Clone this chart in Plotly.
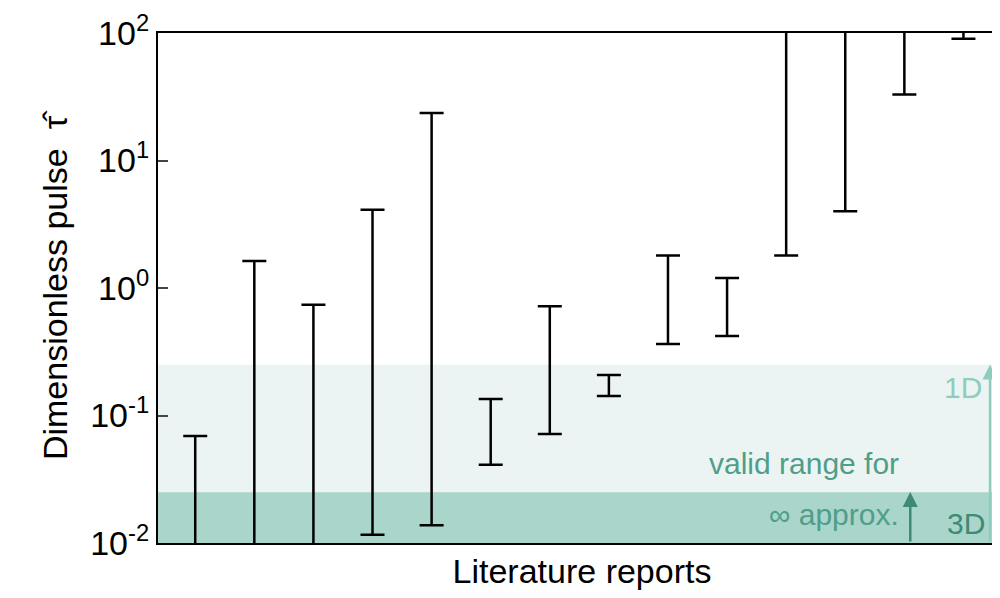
import plotly.graph_objects as go

reports = list(range(1, 15))
lower = [1e-3, 1e-3, 1e-3, 0.0116, 0.0138, 0.041, 0.0716, 0.142, 0.364, 0.42, 1.8, 4.0, 33, 90]
upper = [0.069, 1.63, 0.74, 4.1, 23.6, 0.135, 0.72, 0.208, 1.8, 1.2, 1e3, 1e3, 1e3, 1e3]
band_1d = 0.25
band_3d = 0.025
tick_vals = [0.01, 0.1, 1, 10, 100]
tick_text = ["10<sup>-2</sup>", "10<sup>-1</sup>", "10<sup>0</sup>", "10<sup>1</sup>", "10<sup>2</sup>"]

mid = [(l*u) ** 0.5 for l, u in zip(lower, upper)]
fig = go.Figure()
fig.add_trace(go.Scatter(
    x=reports, y=mid, mode="markers", marker=dict(size=0.1, color="rgba(0,0,0,0)"),
    error_y=dict(type="data", symmetric=False,
                 array=[u-m for u, m in zip(upper, mid)],
                 arrayminus=[m-l for l, m in zip(lower, mid)],
                 color="black", thickness=2.5, width=12),
    showlegend=False, hoverinfo="skip"))

fig.add_shape(type="rect", xref="paper", yref="y", x0=0, x1=1, y0=0.01, y1=band_1d,
              fillcolor="#ebf4f2", line_width=0, layer="below")
fig.add_shape(type="rect", xref="paper", yref="y", x0=0, x1=1, y0=0.01, y1=band_3d,
              fillcolor="#a9d5cb", line_width=0, layer="below")

fig.add_annotation(x=14.45, y=-0.6, ax=14.45, ay=-2, xref="x", yref="y", axref="x", ayref="y",
                   showarrow=True, arrowhead=2, arrowsize=1.2, arrowwidth=2.5, arrowcolor="#8ecdbd", text="")
fig.add_annotation(x=13.1, y=-1.6, ax=13.1, ay=-2, xref="x", yref="y", axref="x", ayref="y",
                   showarrow=True, arrowhead=2, arrowsize=1.2, arrowwidth=2.5, arrowcolor="#3d8a76", text="")
fig.add_annotation(x=14.35, y=-0.78, xref="x", yref="y", text="1D", showarrow=False,
                   xanchor="right", font=dict(size=30, color="#8ecdbd"))
fig.add_annotation(x=14.4, y=-1.85, xref="x", yref="y", text="3D", showarrow=False,
                   xanchor="right", font=dict(size=30, color="#3d8a76"))
fig.add_annotation(x=12.95, y=-1.38, xref="x", yref="y", text="valid range for", showarrow=False,
                   xanchor="right", font=dict(size=30, color="#4f9e8a"))
fig.add_annotation(x=12.95, y=-1.78, xref="x", yref="y", text="∞ approx.", showarrow=False,
                   xanchor="right", font=dict(size=30, color="#4f9e8a"))

fig.update_xaxes(range=[0.37, 14.72], showticklabels=False, ticks="", showgrid=False, zeroline=False,
                 showline=True, linecolor="black", linewidth=2, mirror=True, automargin=False,
                 title=dict(text="Literature reports", font=dict(size=34, color="black"), standoff=15))
fig.update_yaxes(type="log", range=[-2, 2], tickvals=tick_vals, ticktext=tick_text,
                 ticks="inside", ticklen=10, tickwidth=1.5, showgrid=False, automargin=False,
                 showline=True, linecolor="black", linewidth=2, mirror="ticks",
                 tickfont=dict(size=34, color="black"),
                 title=dict(text="Dimensionless pulse  τ̂", font=dict(size=34, color="black"), standoff=12))
fig.update_layout(width=1000, height=598, margin=dict(l=150, r=2, t=25, b=63),
                  plot_bgcolor="white", paper_bgcolor="white",
                  font=dict(family="Liberation Sans, Arial, sans-serif"))
fig.write_html("out.html")
